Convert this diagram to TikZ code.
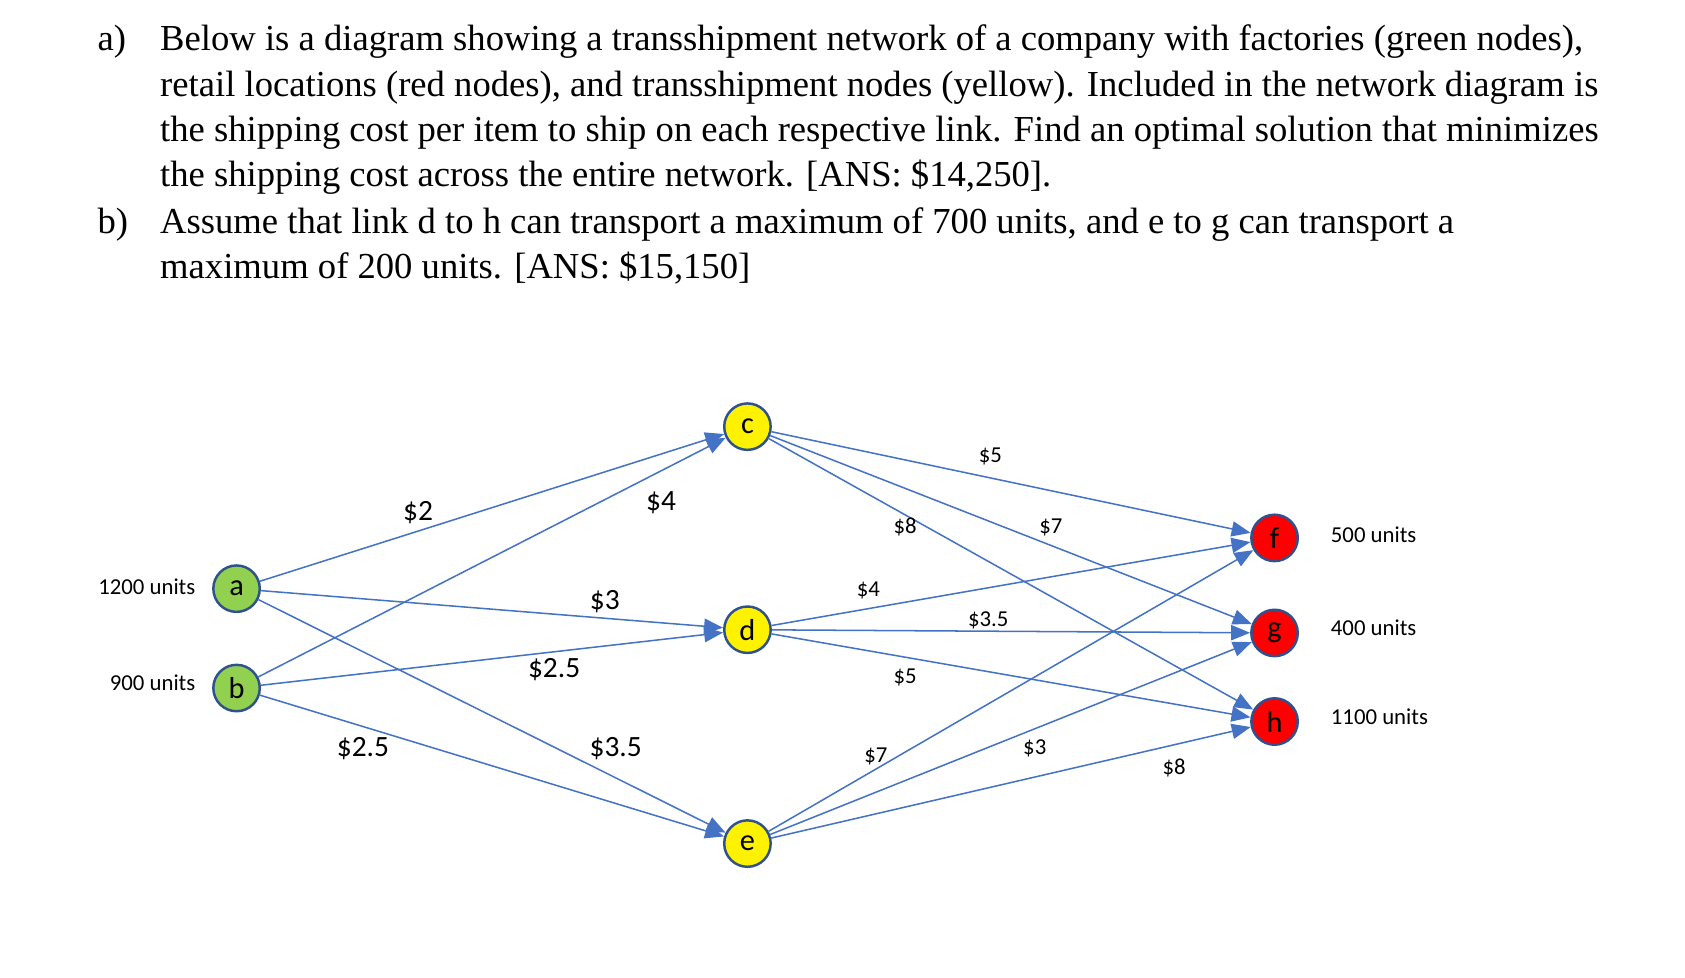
\documentclass[tikz,border=0pt]{standalone}
\usepackage{fontspec}
\setmainfont{Liberation Serif}
\newfontfamily\carl{Carlito}
\usetikzlibrary{arrows.meta}
\definecolor{edgeblue}{HTML}{4472C4}
\definecolor{rim}{HTML}{2F528F}
\definecolor{lgreen}{HTML}{92D050}
\begin{document}
\begin{tikzpicture}[x=0.02cm,y=-0.02cm,
  nd/.style={circle,draw=rim,line width=1.3pt,minimum size=0.86cm,inner sep=0pt,font=\carl\fontsize{16}{16}\selectfont},
  src/.style={nd,fill=lgreen},
  mid/.style={nd,fill=yellow},
  dst/.style={nd,fill=red},
  ed/.style={draw=edgeblue,line width=0.8pt,-{Triangle[length=10pt,width=8pt]}},
  big/.style={font=\carl\fontsize{15.5}{15.5}\selectfont},
  sm/.style={font=\carl\fontsize{12}{12}\selectfont},
  un/.style={font=\carl\fontsize{12}{12}\selectfont},
  tx/.style={anchor=base west,inner sep=0pt,font=\fontsize{19.3}{19.3}\selectfont}]
\useasboundingbox (0,0) rectangle (1560,905);
\node[tx] at (90,47) {a)};
\node[tx] at (148,47) {Below is a diagram showing a transshipment network of a company with factories (green nodes),};
\node[tx] at (148,89) {retail locations (red nodes), and transshipment nodes (yellow). Included in the network diagram is};
\node[tx] at (148,131) {the shipping cost per item to ship on each respective link. Find an optimal solution that minimizes};
\node[tx] at (148,173) {the shipping cost across the entire network. [ANS: \$14,250].};
\node[tx] at (90,216) {b)};
\node[tx] at (148,216) {Assume that link d to h can transport a maximum of 700 units, and e to g can transport a};
\node[tx] at (148,258) {maximum of 200 units. [ANS: \$15,150]};
\node[src] (a) at (219,545) {a};
\node[src] (b) at (219,637) {b};
\node[mid] (c) at (692,395) {c};
\node[mid] (d) at (692,583) {d};
\node[mid] (e) at (692,781) {e};
\node[dst] (f) at (1180,498) {f};
\node[dst] (g) at (1180,586) {g};
\node[dst] (h) at (1180,668) {h};
\foreach \s/\t in {a/c,a/d,a/e,b/c,b/d,b/e,c/f,c/g,c/h,d/f,d/g,d/h,e/f,e/g,e/h}
  \draw[ed] (\s) -- (\t);
\node[big] (l1) at (387,475) {\$2};
\node[big] (l2) at (612,465) {\$4};
\node[big] (l3) at (560,557) {\$3};
\node[big] (l4) at (513,620) {\$2.5};
\node[big] (l5) at (336,693) {\$2.5};
\node[big] (l6) at (570,693) {\$3.5};
\node[sm] (l7) at (917,423) {\$5};
\node[sm] (l8) at (838,488) {\$8};
\node[sm] (l9) at (973,488) {\$7};
\node[sm] (l10) at (804,547) {\$4};
\node[sm] (l11) at (915,574) {\$3.5};
\node[sm] (l12) at (838,627) {\$5};
\node[sm] (l13) at (811,700) {\$7};
\node[sm] (l14) at (958,693) {\$3};
\node[sm] (l15) at (1087,711) {\$8};
\node[un,anchor=east] (ua) at (187,543) {1200 units};
\node[un,anchor=east] (ub) at (187,632) {900 units};
\node[un,anchor=west] (uf) at (1226,495) {500 units};
\node[un,anchor=west] (ug) at (1226,581) {400 units};
\node[un,anchor=west] (uh) at (1226,664) {1100 units};
\end{tikzpicture}
\end{document}
